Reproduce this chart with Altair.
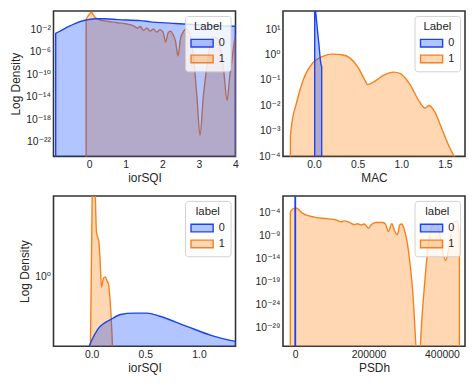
import altair as alt
import pandas as pd

# ---------------- data (x values, log10 of density) ----------------
# Panel 1: iorSQI, legend "Label"
p1_x0 = [-0.91, -0.64, -0.37, -0.11, 0.16, 0.43, 0.78, 1.41, 1.67, 2.29, 2.7, 3.3, 4.0]
p1_l0 = [-2.67, -1.72, -0.88, -0.33, -0.05, -0.05, -0.21, -0.40, -0.61, -0.88, -1.05, -1.25, -1.4]
p1_x1 = [-0.08, -0.04, 0.03, 0.07, 0.12, 0.21, 0.34, 0.55, 0.78, 1.0, 1.14, 1.25, 1.32, 1.40,
         1.49, 1.58, 1.67, 1.76, 1.85, 1.94, 2.02, 2.09, 2.16, 2.22, 2.29, 2.36, 2.43, 2.50,
         2.56, 2.65, 2.72, 2.80, 2.87, 2.95, 3.03, 3.12, 3.23, 3.30, 3.40, 3.50, 3.60, 3.68,
         3.77, 3.84, 3.89, 3.95, 4.0]
p1_l1 = [-0.2, 0.3, 0.9, 1.1, 0.6, -0.05, -0.33, -0.55, -0.78, -0.95, -1.17, -1.45, -1.72, -1.45,
         -2.11, -1.72, -2.28, -1.89, -2.44, -2.0, -2.4, -4.22, -2.6, -2.28, -2.83, -4.0, -6.72, -3.5,
         -2.56, -1.89, -2.3, -4.5, -8.1, -14.3, -20.9, -14.0, -8.1, -5.0, -3.3, -3.6, -6.0, -9.5,
         -14.67, -10.5, -8.1, -5.0, -3.0]

# Panel 2: MAC, legend "Label"
p2_x0 = [0.008, 0.03, 0.055, 0.08, 0.088]
p2_l0 = [2.1, 1.3, 0.45, -0.38, -0.48]
p2_x1 = [-0.27, -0.263, -0.197, -0.123, -0.012, 0.10, 0.21, 0.32, 0.41, 0.505, 0.58, 0.615,
         0.69, 0.80, 0.91, 0.99, 1.10, 1.21, 1.27, 1.32, 1.38, 1.47, 1.56, 1.62]
p2_l1 = [-3.2, -2.96, -1.86, -0.99, -0.32, -0.07, 0.015, -0.01, -0.13, -0.50, -0.99, -1.18,
         -1.06, -0.81, -0.69, -0.75, -1.18, -1.86, -2.10, -2.00, -2.23, -2.96, -3.70, -4.07]

# Panel 3: iorSQI, legend "label"
p3_x0 = [-0.045, 0.0, 0.06, 0.18, 0.27, 0.39, 0.515, 0.636, 0.88, 1.12, 1.34]
p3_l0 = [-0.26, -0.22, -0.18, -0.147, -0.13, -0.125, -0.125, -0.136, -0.17, -0.203, -0.223]
p3_x1 = [-0.015, 0.0, 0.006, 0.015, 0.03, 0.045, 0.067, 0.08, 0.091, 0.11, 0.127, 0.145,
         0.157, 0.17, 0.18, 0.19, 0.2]
p3_l1 = [-0.35, 0.1, 0.3, 0.45, 0.35, 0.155, 0.121, 0.05, -0.035, -0.005, 0.0, -0.015,
         -0.024, -0.07, -0.125, -0.2, -0.3]

# Panel 4: PSDh, legend "label"
p4_x0 = [-600, 0, 600]
p4_l0 = [1.0, 3.0, 1.0]
p4_x1 = [-13500, -10800, 1000, 20900, 57100, 84200, 111300, 124900, 134000, 147500, 161100,
         170100, 179200, 188200, 200000, 206300, 219900, 238000, 245200, 254300, 263300,
         272400, 278700, 285000, 290500, 296800, 305800, 319400, 335700, 346500, 360100,
         373700, 387300, 400800, 409900, 418900, 432500, 441500, 447800]
p4_l1 = [-4.0, -3.5, -2.95, -4.15, -5.06, -5.27, -5.55, -5.98, -5.77, -6.12, -6.61,
         -6.40, -6.68, -6.47, -7.38, -6.68, -6.12, -6.12, -6.4, -8.09, -6.40,
         -8.23, -8.79, -6.68, -6.47, -7.52, -10.69, -20.18, -38.0, -25.8, -13.15,
         -6.82, -6.5, -11.74, -14.41, -11.74, -6.12, -5.77, -8.5]

# axes: domains, ticks
p1_xdom, p1_ydom, p1_xticks, p1_yticks = [-0.97, 4.0], [-24.67, 1.33], [0, 1, 2, 3, 4], [-2, -6, -10, -14, -18, -22]
p2_xdom, p2_ydom, p2_xticks, p2_yticks = [-0.355, 1.73], [-4.0, 1.71], [0.0, 0.5, 1.0, 1.5], [1, 0, -1, -2, -3, -4]
p3_xdom, p3_ydom, p3_xticks, p3_yticks = [-0.355, 1.34], [-0.24, 0.28], [0.0, 0.5, 1.0], [0]
p4_xdom, p4_ydom, p4_xticks, p4_yticks = [-33400, 463000], [-33.1, -0.35], [0, 200000, 400000], [-4, -9, -14, -19, -24, -29]

BLUE = "#1a44f0"
ORANGE = "#f7801a"
BLUE_FILL = "rgba(2,62,255,0.3)"
ORANGE_FILL = "rgba(255,124,0,0.3)"

SUP = str.maketrans("-0123456789", "⁻⁰¹²³⁴⁵⁶⁷⁸⁹")

W, H_TOP, H_BOT = 184, 147, 152


def label_expr(exps):
    parts = [f"round(log(datum.value)/LN10) == {e} ? '10{str(e).translate(SUP)}'" for e in exps]
    return " : ".join(parts) + " : ''"


def panel(x0, l0, x1, l1, field, xtitle, xdom, ydom, xticks, yticks, xfmt, ytitle, h):
    df = pd.concat([
        pd.DataFrame({"x": x0, "density": [10.0 ** v for v in l0], field: "0"}),
        pd.DataFrame({"x": x1, "density": [10.0 ** v for v in l1], field: "1"}),
    ], ignore_index=True)
    base_exp = ydom[0] - 0.5 * (ydom[1] - ydom[0])
    leg = alt.Legend(title=field, orient="top-right", offset=5)
    base = alt.Chart(df).mark_area(clip=True, strokeWidth=1.4, interpolate="monotone").encode(
        x=alt.X("x:Q", scale=alt.Scale(domain=xdom, nice=False, zero=False),
                axis=alt.Axis(values=xticks, format=xfmt, title=xtitle, labelFlush=False)),
        y=alt.Y("density:Q", scale=alt.Scale(type="log", domain=[10.0 ** ydom[0], 10.0 ** ydom[1]], nice=False),
                axis=alt.Axis(values=[10.0 ** e for e in yticks], labelExpr=label_expr(yticks),
                              title=ytitle, labelOverlap=False)),
        y2=alt.datum(10.0 ** base_exp),
        fill=alt.Fill(f"{field}:N", scale=alt.Scale(domain=["0", "1"], range=[BLUE_FILL, ORANGE_FILL]), legend=leg),
        stroke=alt.Stroke(f"{field}:N", scale=alt.Scale(domain=["0", "1"], range=[BLUE, ORANGE]), legend=leg),
    )
    return alt.layer(
        base.transform_filter(alt.datum[field] == "1"),
        base.transform_filter(alt.datum[field] == "0"),
    ).properties(width=W, height=h)


c1 = panel(p1_x0, p1_l0, p1_x1, p1_l1, "Label", "iorSQI", p1_xdom, p1_ydom, p1_xticks, p1_yticks, "d", "Log Density", H_TOP)
c2 = panel(p2_x0, p2_l0, p2_x1, p2_l1, "Label", "MAC", p2_xdom, p2_ydom, p2_xticks, p2_yticks, ".1f", "", H_TOP)
c3 = panel(p3_x0, p3_l0, p3_x1, p3_l1, "label", "iorSQI", p3_xdom, p3_ydom, p3_xticks, p3_yticks, ".1f", "Log Density", H_BOT)
c4 = panel(p4_x0, p4_l0, p4_x1, p4_l1, "label", "PSDh", p4_xdom, p4_ydom, p4_xticks, p4_yticks, "d", "", H_BOT)

FONT = "Liberation Sans, Arial, DejaVu Sans, sans-serif"

chart = alt.concat(c1, c2, c3, c4, columns=2, spacing=alt.RowColnumber(row=10, column=14)).resolve_scale(
    fill="independent", stroke="independent"
).resolve_legend(fill="independent", stroke="independent").properties(
    padding=0, background="white"
).configure_view(
    stroke="#333333", strokeWidth=1.6
).configure_axis(
    grid=False, ticks=False, domain=False,
    labelFont=FONT, labelFontSize=10.5, labelColor="#262626", labelPadding=3,
    titleFont=FONT, titleFontSize=12, titleFontWeight="normal", titleColor="#262626", titlePadding=3,
).configure_legend(
    fillColor="rgba(255,255,255,0.8)", strokeColor="#d0d0d0", cornerRadius=3, padding=5,
    titleFont=FONT, titleFontSize=11.5, titleFontWeight="normal", titleColor="#262626",
    titleAnchor="middle", titlePadding=3,
    labelFont=FONT, labelFontSize=11, labelColor="#262626", labelOffset=13,
    symbolType="M-1,-0.55H2.2V0.55H-1Z", symbolSize=196, symbolStrokeWidth=1.4,
    rowPadding=1,
)

chart.save("out.html", embed_options={"renderer": "svg", "actions": False})
